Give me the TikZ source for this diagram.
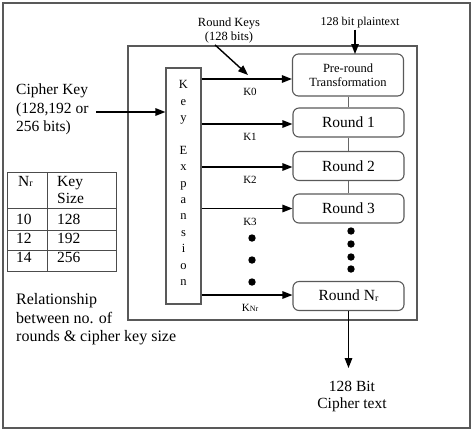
\documentclass[tikz,border=0pt]{standalone}
\usepackage{fontspec}
\setmainfont{Liberation Serif}
\usetikzlibrary{arrows.meta}
\begin{document}
\begin{tikzpicture}[x=1bp,y=-1bp,
  frame/.style={draw=black!65, line width=1.2bp, inner sep=0pt},
  rbox/.style={draw=black!65, line width=1.1bp, rounded corners=6bp, minimum width=111bp, minimum height=29bp, inner sep=0pt, align=center, font=\fontsize{15.5bp}{17bp}\selectfont},
  arr/.style={draw=black, line width=1.4bp, -{Triangle[length=10bp,width=7.5bp]}},
  klabel/.style={font=\fontsize{11bp}{12bp}\selectfont, inner sep=0pt},
  big/.style={font=\fontsize{15.5bp}{18.7bp}\selectfont, inner sep=0pt},
  small/.style={font=\fontsize{12.5bp}{14bp}\selectfont, inner sep=0pt, align=center},
  conn/.style={draw=black!60, line width=1bp},
  tabline/.style={draw=black!70, line width=1bp},
  kdot/.style={fill=black}
]
\useasboundingbox (0,0) rectangle (474,430);
% frames
\node[frame, minimum width=467bp, minimum height=425bp] (outer) at (236.5,215.5) {};
\node[frame, minimum width=289bp, minimum height=274bp] (inner) at (272.5,183) {};
% key expansion
\node[frame, minimum width=35bp, minimum height=236bp] (kexp) at (183.5,186) {};
\node[align=center, inner sep=0pt, font=\fontsize{12.5bp}{16.4bp}\selectfont] (ketext) at (183.5,183) {K\\e\\y\\[16.4bp]E\\x\\p\\a\\n\\s\\i\\o\\n};
% rounds
\node[rbox, minimum height=42bp, font=\fontsize{12.5bp}{14bp}\selectfont] (pre) at (348,75) {Pre-round\\Transformation};
\node[rbox] (r1) at (348.5,122.5) {Round 1};
\node[rbox] (r2) at (348.5,166) {Round 2};
\node[rbox] (r3) at (348.5,208.5) {Round 3};
\node[rbox] (rn) at (348.5,296) {Round N\raisebox{-1bp}{\fontsize{10bp}{10bp}\selectfont r}};
\draw[conn] (pre.south) -- (pre.south |- r1.north);
\draw[conn] (r1.south) -- (r2.north);
\draw[conn] (r2.south) -- (r3.north);
% key arrows
\draw[arr] ([yshift=-4bp]pre.west -| kexp.east) -- ([yshift=-4bp]pre.west);
\draw[arr] ([yshift=-1.5bp]r1.west -| kexp.east) -- ([yshift=-1.5bp]r1.west);
\draw[arr] ([yshift=-1bp]r2.west -| kexp.east) -- ([yshift=-1bp]r2.west);
\draw[arr] (r3.west -| kexp.east) -- (r3.west);
\draw[arr] ([yshift=1bp]rn.west -| kexp.east) -- ([yshift=1bp]rn.west);
\node[klabel] (k0) at (250,92) {K0};
\node[klabel] (k1) at (250,137) {K1};
\node[klabel] (k2) at (250,180) {K2};
\node[klabel] (k3) at (250,222) {K3};
\node[klabel] (kn) at (250,308) {K{\fontsize{8bp}{8bp}\selectfont Nr}};
% dots
\fill[kdot] (252,238) circle (3.7bp);
\fill[kdot] (252,260) circle (3.7bp);
\fill[kdot] (252,282) circle (3.7bp);
\fill[kdot] (351,231) circle (3.7bp);
\fill[kdot] (351,244) circle (3.7bp);
\fill[kdot] (351,257) circle (3.7bp);
\fill[kdot] (351,269) circle (3.7bp);
% round keys
\node[small] (rk) at (229,30) {Round Keys\\(128 bits)};
\coordinate (rkt) at (248,75);
\draw[arr] ([xshift=-14bp,yshift=-2bp]rk.south) -- (rkt);
% plaintext
\node[inner sep=0pt, font=\fontsize{12bp}{14bp}\selectfont] (pt) at (360,23) {128 bit plaintext};
\coordinate (ptt) at (355,54);
\draw[arr] ([yshift=-1bp]pt.south -| ptt) -- (ptt);
% cipher key
\node[big, align=left, anchor=north west] (ck) at (16,83.4) {Cipher Key\\(128,192 or\\256 bits)};
\coordinate (cks) at (96,112);
\draw[arr] (cks) -- (cks -| kexp.west);
% table
\draw[tabline] (7,172) rectangle (116,271);
\draw[tabline] (47,172) -- (47,271);
\draw[tabline] (7,208) -- (116,208);
\draw[tabline] (7,230) -- (116,230);
\draw[tabline] (7,250) -- (116,250);
\node[big, anchor=base west] (tnr) at (18,186) {N\raisebox{-0.5bp}{\fontsize{10bp}{10bp}\selectfont r}};
\node[big, anchor=base west] (tkey) at (57,186) {Key};
\node[big, anchor=base west] (tsize) at (57,203.5) {Size};
\node[big, anchor=base west] (t10) at (16,224) {10};
\node[big, anchor=base west] (t128) at (57,224) {128};
\node[big, anchor=base west] (t12) at (16,243.5) {12};
\node[big, anchor=base west] (t192) at (57,243.5) {192};
\node[big, anchor=base west] (t14) at (16,262) {14};
\node[big, anchor=base west] (t256) at (57,262) {256};
% relationship
\node[big, align=left, anchor=north west, font=\fontsize{16bp}{18.5bp}\selectfont] (rel) at (16,293.4) {Relationship\\between no. of\\rounds \& cipher key size};
% output
\coordinate (cend) at (348.5,368);
\draw[arr] (rn.south) -- (cend);
\node[big, align=center, anchor=north, font=\fontsize{15.5bp}{17.5bp}\selectfont] (out) at (352,380.5) {128 Bit\\Cipher text};
\end{tikzpicture}
\end{document}
